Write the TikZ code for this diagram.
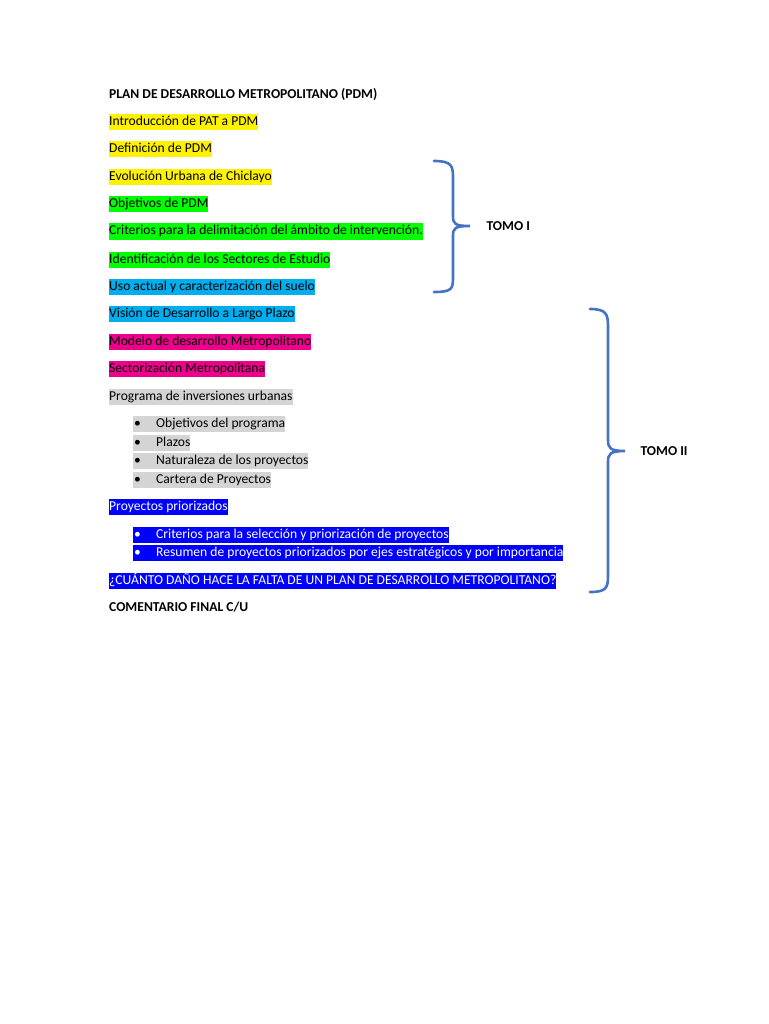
\documentclass[tikz,border=0pt]{standalone}
\usepackage{fontspec}
\setmainfont{Carlito}
\begin{document}
\begin{tikzpicture}[x=1pt,y=-1pt,font=\fontsize{13.6}{16}\selectfont,
  hl/.style={anchor=base west,inner xsep=0pt,inner ysep=0pt,text height=11.5pt,text depth=4.5pt},
  yel/.style={hl,fill=yellow},
  grn/.style={hl,fill=green},
  cyn/.style={hl,fill=cyan},
  mag/.style={hl,fill=magenta},
  gry/.style={hl,fill=black!17},
  blu/.style={hl,fill=blue,text=white},
  pl/.style={hl},
  brace/.style={draw={rgb,255:red,68;green,114;blue,196},line width=2.6pt,line cap=round}]
\useasboundingbox (0,0) rectangle (768,1024);
\newcommand{\bl}[1]{\makebox[23pt][l]{\hspace{1pt}\textbullet}#1}
\node[pl,font=\fontsize{13.6}{16}\selectfont\bfseries] (t0) at (109,99) {PLAN DE DESARROLLO METROPOLITANO (PDM)};
\node[yel] (a1) at (109,126) {Introducción de PAT a PDM};
\node[yel] (a2) at (109,153) {Definición de PDM};
\node[yel] (a3) at (109,181) {Evolución Urbana de Chiclayo};
\node[grn] (a4) at (109,208) {Objetivos de PDM};
\node[grn] (a5) at (109,235) {Criterios para la delimitación del ámbito de intervención.};
\node[grn] (a6) at (109,263) {Identificación de los Sectores de Estudio};
\node[cyn] (a7) at (109,290) {Uso actual y caracterización del suelo};
\node[cyn] (a8) at (109,317) {Visión de Desarrollo a Largo Plazo};
\node[mag] (a9) at (109,345) {Modelo de desarrollo Metropolitano};
\node[mag] (a10) at (109,372) {Sectorización Metropolitana};
\node[gry] (a11) at (109,400) {Programa de inversiones urbanas};
\node[gry] (b1) at (133,427) {\bl{Objetivos del programa}};
\node[gry] (b2) at (133,446) {\bl{Plazos}};
\node[gry] (b3) at (133,464) {\bl{Naturaleza de los proyectos}};
\node[gry] (b4) at (133,483) {\bl{Cartera de Proyectos}};
\node[blu] (a12) at (109,510) {Proyectos priorizados};
\node[blu] (c1) at (133,538) {\bl{Criterios para la selección y priorización de proyectos}};
\node[blu] (c2) at (133,556) {\bl{Resumen de proyectos priorizados por ejes estratégicos y por importancia}};
\node[blu] (a13) at (109,584) {¿CUÁNTO DAÑO HACE LA FALTA DE UN PLAN DE DESARROLLO METROPOLITANO?};
\node[pl,font=\fontsize{13.6}{16}\selectfont\bfseries] (a14) at (109,611) {COMENTARIO FINAL C/U};
% braces
\draw[brace] (434,161) .. controls (452,161) and (453,166) .. (453,178) -- (453,216)
  .. controls (453,224) and (455,226) .. (470,226)
  .. controls (455,226) and (453,228) .. (453,236) -- (453,277)
  .. controls (453,289) and (452,292) .. (434,292);
\draw[brace] (590,309) .. controls (606,309) and (608,314) .. (608,326) -- (608,440)
  .. controls (608,448) and (610,451) .. (625,451)
  .. controls (610,451) and (608,454) .. (608,462) -- (608,576)
  .. controls (608,588) and (606,592) .. (590,592);
\node[anchor=west,font=\fontsize{13.6}{16}\selectfont\bfseries] (tomo1) at (483,226) {TOMO I};
\node[anchor=west,font=\fontsize{13.6}{16}\selectfont\bfseries] (tomo2) at (637,451) {TOMO II};
\end{tikzpicture}
\end{document}
